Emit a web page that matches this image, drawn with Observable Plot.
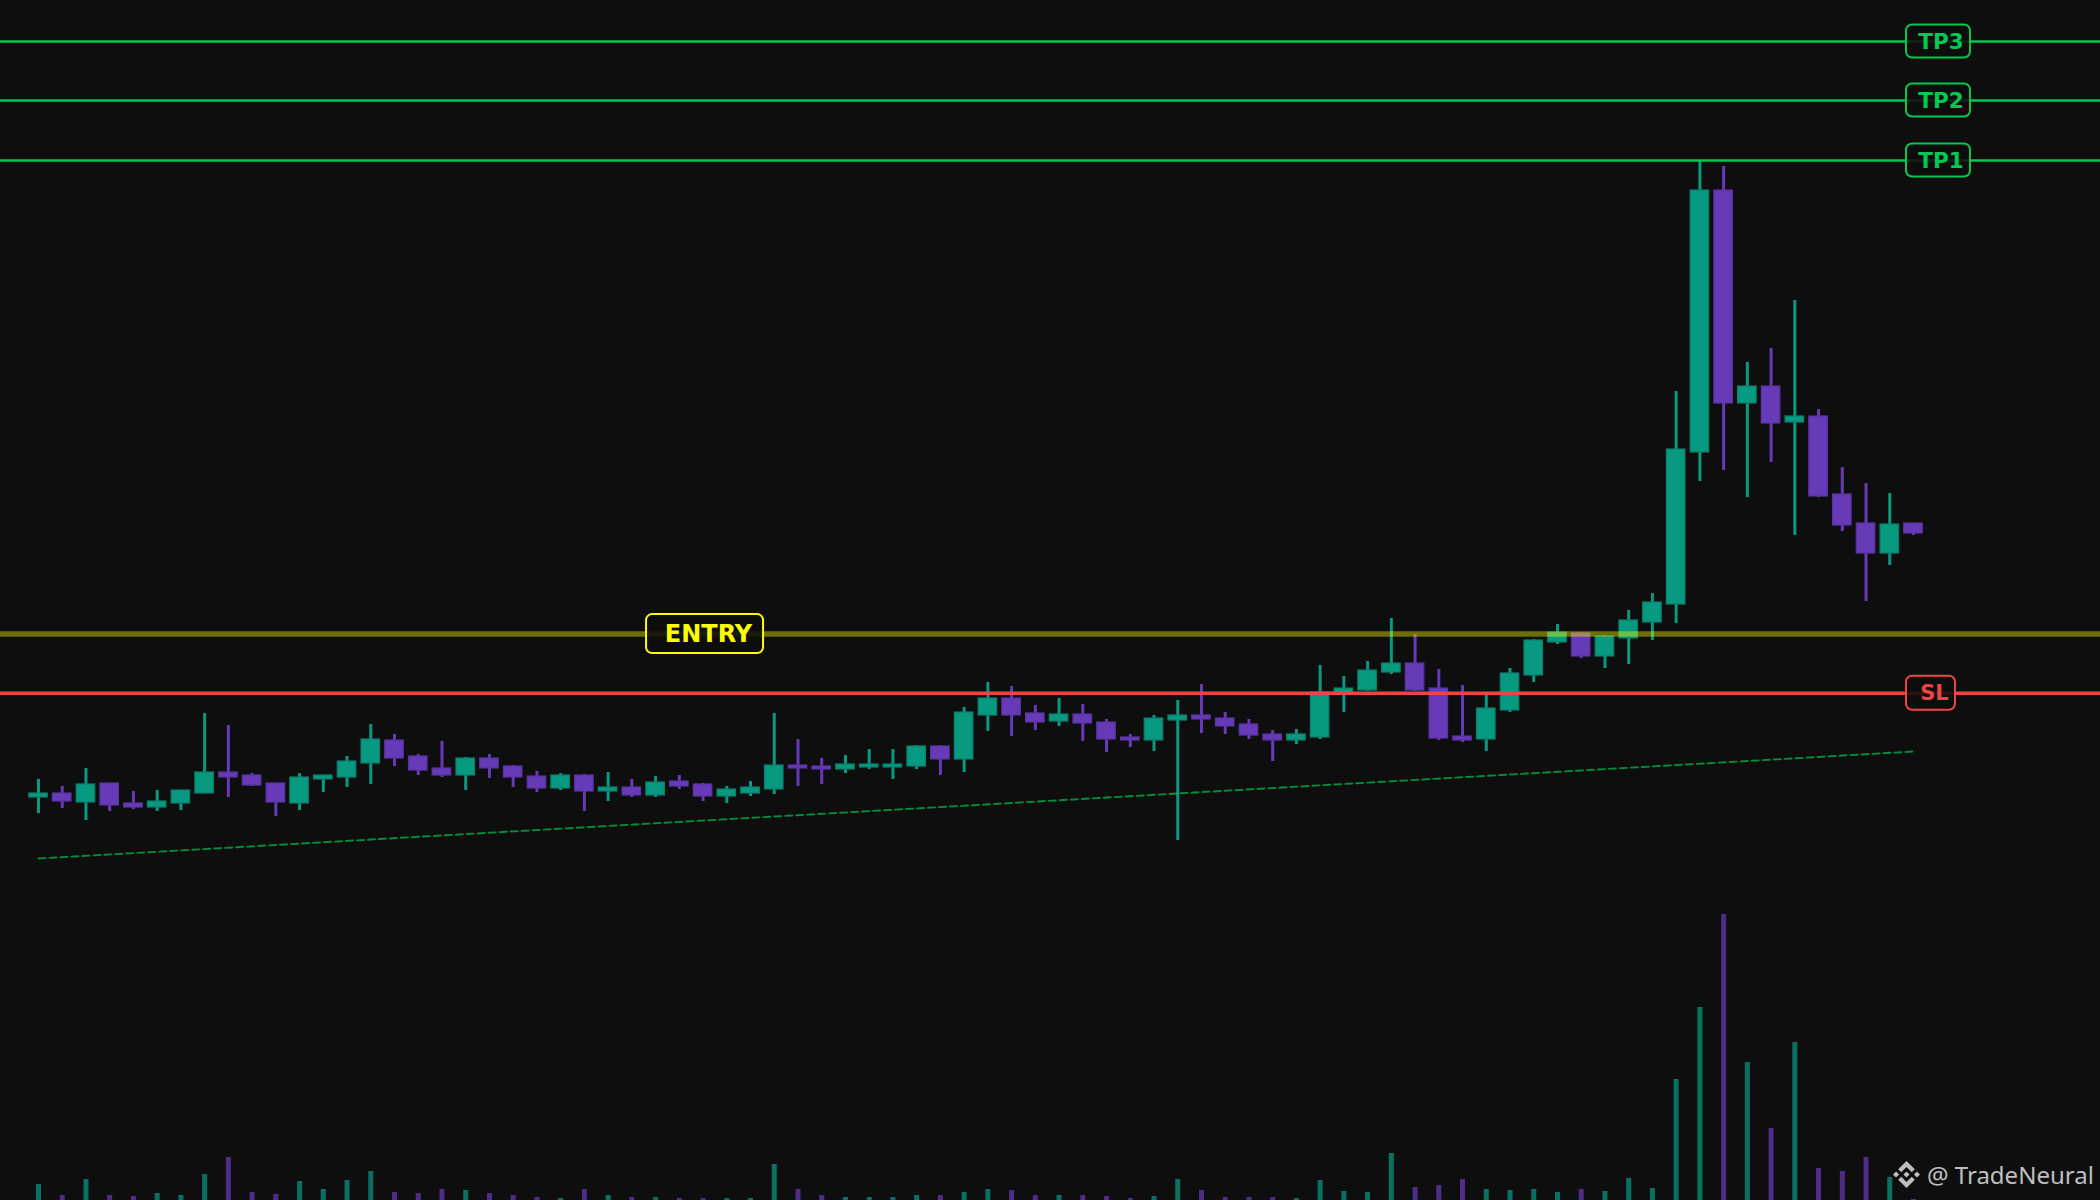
<!DOCTYPE html>
<html>
<head>
<meta charset="utf-8">
<script src="https://cdn.jsdelivr.net/npm/d3@7"></script>
<script src="https://cdn.jsdelivr.net/npm/@observablehq/plot@0.6"></script>
<style>
  html, body { margin: 0; padding: 0; background: #0e0e0e; }
  #chart { position: relative; width: 2100px; height: 1200px; overflow: hidden; background: #0e0e0e; }
  #chart svg { position: absolute; left: 0; top: 0; }
  #watermark {
    position: absolute; left: 1893px; top: 1158px;
    display: flex; align-items: center; gap: 7px;
    color: #d2d2d2; opacity: 0.9;
    font: 24px "Noto Sans", "Open Sans", sans-serif;
    white-space: nowrap;
  }
  #watermark svg { position: static; }
</style>
</head>
<body>
<div id="chart"></div>
<script>
// candles, oldest first (price units)
const opens = [
  0.4515, 0.4535, 0.4490, 0.4585, 0.4485, 0.4465, 0.4485, 0.4535, 0.4640, 0.4625,
  0.4585, 0.4485, 0.4605, 0.4615, 0.4685, 0.4800, 0.4720, 0.4660, 0.4625, 0.4710,
  0.4670, 0.4620, 0.4560, 0.4625, 0.4545, 0.4565, 0.4525, 0.4595, 0.4580, 0.4520,
  0.4535, 0.4555, 0.4675, 0.4670, 0.4655, 0.4665, 0.4665, 0.4670, 0.4770, 0.4705,
  0.4925, 0.5010, 0.4935, 0.4895, 0.4930, 0.4890, 0.4815, 0.4800, 0.4900, 0.4925,
  0.4910, 0.4880, 0.4830, 0.4800, 0.4815, 0.5035, 0.5050, 0.5140, 0.5185, 0.5060,
  0.4820, 0.4805, 0.4950, 0.5125, 0.5290, 0.5335, 0.5220, 0.5310, 0.5390, 0.5480,
  0.6240, 0.7550, 0.6485, 0.6570, 0.6390, 0.6420, 0.6030, 0.5885, 0.5735, 0.5885
];
const highs = [
  0.4605, 0.4570, 0.4660, 0.4585, 0.4545, 0.4550, 0.4550, 0.4935, 0.4875, 0.4635,
  0.4585, 0.4635, 0.4625, 0.4720, 0.4880, 0.4830, 0.4730, 0.4795, 0.4715, 0.4730,
  0.4675, 0.4645, 0.4635, 0.4630, 0.4640, 0.4605, 0.4620, 0.4625, 0.4585, 0.4570,
  0.4595, 0.4935, 0.4805, 0.4710, 0.4725, 0.4755, 0.4755, 0.4775, 0.4775, 0.4965,
  0.5090, 0.5070, 0.4975, 0.5010, 0.4980, 0.4905, 0.4830, 0.4925, 0.5000, 0.5080,
  0.4940, 0.4905, 0.4850, 0.4855, 0.5175, 0.5120, 0.5195, 0.5410, 0.5330, 0.5155,
  0.5075, 0.5025, 0.5160, 0.5305, 0.5380, 0.5340, 0.5325, 0.5450, 0.5535, 0.6545,
  0.7700, 0.7670, 0.6690, 0.6760, 0.7000, 0.6455, 0.6165, 0.6085, 0.6035, 0.5885
];
const lows = [
  0.4435, 0.4460, 0.4400, 0.4445, 0.4455, 0.4445, 0.4450, 0.4535, 0.4515, 0.4570,
  0.4420, 0.4450, 0.4540, 0.4565, 0.4580, 0.4670, 0.4625, 0.4615, 0.4550, 0.4610,
  0.4565, 0.4540, 0.4550, 0.4445, 0.4495, 0.4515, 0.4515, 0.4555, 0.4495, 0.4485,
  0.4520, 0.4530, 0.4570, 0.4580, 0.4635, 0.4655, 0.4605, 0.4655, 0.4625, 0.4640,
  0.4845, 0.4820, 0.4850, 0.4870, 0.4795, 0.4740, 0.4765, 0.4745, 0.4300, 0.4835,
  0.4830, 0.4805, 0.4695, 0.4780, 0.4805, 0.4940, 0.5045, 0.5130, 0.5045, 0.4800,
  0.4790, 0.4745, 0.4940, 0.5090, 0.5280, 0.5210, 0.5160, 0.5180, 0.5300, 0.5385,
  0.6095, 0.6150, 0.6015, 0.6190, 0.5825, 0.6015, 0.5845, 0.5495, 0.5675, 0.5825
];
const closes = [
  0.4535, 0.4495, 0.4580, 0.4475, 0.4465, 0.4495, 0.4550, 0.4640, 0.4615, 0.4575,
  0.4490, 0.4615, 0.4625, 0.4695, 0.4805, 0.4710, 0.4650, 0.4625, 0.4710, 0.4660,
  0.4615, 0.4560, 0.4625, 0.4545, 0.4565, 0.4525, 0.4590, 0.4570, 0.4520, 0.4555,
  0.4565, 0.4675, 0.4660, 0.4655, 0.4680, 0.4680, 0.4680, 0.4770, 0.4705, 0.4940,
  0.5010, 0.4925, 0.4890, 0.4930, 0.4885, 0.4805, 0.4800, 0.4910, 0.4925, 0.4905,
  0.4870, 0.4825, 0.4800, 0.4830, 0.5040, 0.5060, 0.5150, 0.5185, 0.5050, 0.4810,
  0.4800, 0.4960, 0.5135, 0.5300, 0.5340, 0.5220, 0.5320, 0.5400, 0.5490, 0.6255,
  0.7550, 0.6485, 0.6570, 0.6385, 0.6420, 0.6020, 0.5875, 0.5735, 0.5880, 0.5835
];
const volumes = [
  160, 50, 210, 50, 40, 70, 50, 260, 430, 80,
  60, 190, 110, 200, 290, 80, 70, 110, 100, 70,
  50, 30, 20, 110, 50, 30, 30, 20, 20, 20,
  20, 360, 110, 50, 30, 30, 30, 50, 50, 80,
  110, 100, 50, 50, 50, 40, 20, 40, 210, 100,
  30, 30, 30, 20, 200, 90, 80, 470, 130, 150,
  210, 110, 100, 110, 80, 110, 90, 220, 120, 1210,
  1930, 2860, 1380, 720, 1580, 320, 290, 430, 230, 10
];

// trade levels
const levelNames = ["TP3", "TP2", "TP1", "ENTRY", "SL"];
const levelPrices = [0.8295, 0.8000, 0.7700, 0.5332, 0.5036];

// dashed trend line (candle index, price)
const trendIndex = [0, 79];
const trendPrice = [0.4210, 0.4745];

const UP = "#089981", DOWN = "#673ab7";
const UP_EDGE = "#0b7f6b", DOWN_EDGE = "#5a33a3";
const GREEN = "#00c853", RED = "#ef4444", YELLOW = "#ffff00";

const levelStyle = {
  TP3: {color: GREEN, width: 2.7, box: [64, 33], font: 21.5, dx: 3},
  TP2: {color: GREEN, width: 2.7, box: [64, 33], font: 21.5, dx: 3},
  TP1: {color: GREEN, width: 2.7, box: [64, 33], font: 21.5, dx: 3},
  ENTRY: {color: YELLOW, width: 5.5, opacity: 0.4, box: [117, 39], font: 24, dx: 4, at: 28},
  SL: {color: RED, width: 3.6, box: [49, 34], font: 21, dx: 4}
};

const candles = opens.map((o, i) => ({
  i, open: o, high: highs[i], low: lows[i], close: closes[i], volume: volumes[i],
  up: closes[i] >= o
}));
const levels = levelNames.map((name, k) => ({name, price: levelPrices[k], ...levelStyle[name]}));
const trend = trendIndex.map((i, k) => ({i, price: trendPrice[k]}));
const last = candles.length - 1;

const xScale = {domain: [0, last], range: [38, 1913], axis: null};

// label boxes sit on the level lines
function levelLabels(index, scales) {
  const g = d3.create("svg:g").attr("font-family", "DejaVu Sans, sans-serif").attr("font-weight", "bold");
  for (const l of levels) {
    const [w, h] = l.box;
    const cy = scales.y(l.price);
    const left = l.at === undefined ? scales.x(last) - 7 : scales.x(l.at) - w / 2 + 2;
    g.append("rect")
      .attr("x", left).attr("y", cy - h / 2).attr("width", w).attr("height", h).attr("rx", 6)
      .attr("fill", "#0e0e0e").attr("fill-opacity", 0.88)
      .attr("stroke", l.color).attr("stroke-width", 2);
    g.append("text")
      .attr("x", left + w / 2 + l.dx).attr("y", cy).attr("dy", "0.36em")
      .attr("text-anchor", "middle").attr("font-size", l.font)
      .attr("fill", l.color).text(l.name);
  }
  return g.node();
}

const volumePlot = Plot.plot({
  width: 2100, height: 1200, margin: 0,
  style: {background: "transparent"},
  x: xScale,
  y: {domain: [0, 3000], range: [1200, 900], axis: null},
  marks: [
    Plot.ruleX(candles, {x: "i", y1: 0, y2: "volume", stroke: d => d.up ? UP : DOWN, strokeOpacity: 0.72, strokeWidth: 5})
  ]
});

const pricePlot = Plot.plot({
  width: 2100, height: 1200, margin: 0,
  style: {background: "transparent"},
  x: xScale,
  y: {domain: [0.25, 0.85], range: [1200, 0], axis: null},
  marks: [
    Plot.ruleX(candles, {x: "i", y1: "low", y2: "high", stroke: d => d.up ? UP : DOWN, strokeWidth: 3}),
    Plot.rect(candles, {
      x1: d => d.i - 0.39, x2: d => d.i + 0.39, y1: "open", y2: "close",
      fill: d => d.up ? UP : DOWN, stroke: d => d.up ? UP_EDGE : DOWN_EDGE, strokeWidth: 1.2
    }),
    Plot.line(trend, {x: "i", y: "price", stroke: GREEN, strokeOpacity: 0.68, strokeWidth: 1.9, strokeDasharray: "7,4"}),
    Plot.ruleY(levels, {y: "price", stroke: d => d.color, strokeWidth: d => d.width, strokeOpacity: d => d.opacity ?? 1}),
    levelLabels
  ]
});

const chart = document.getElementById("chart");
chart.append(volumePlot, pricePlot);

const mark = document.createElement("div");
mark.id = "watermark";
mark.innerHTML = `<svg width="27" height="27" viewBox="0 0 126.61 126.61"><g fill="#d2d2d2">
<path d="M38.73 53.2 63.32 28.61l24.6 24.6 14.31-14.31L63.32 0 24.42 38.9z"/>
<path d="M0 63.31 14.3 49l14.31 14.31-14.31 14.3z"/>
<path d="M38.73 73.41 63.32 98l24.6-24.6 14.31 14.29-38.91 38.92-38.91-38.9z"/>
<path d="M98 63.31 112.3 49l14.31 14.3-14.31 14.32z"/>
<path d="M77.83 63.3 63.32 48.78 48.81 63.29l14.51 14.5z"/>
</g></svg><span>@ TradeNeural</span>`;
chart.append(mark);
</script>
</body>
</html>
